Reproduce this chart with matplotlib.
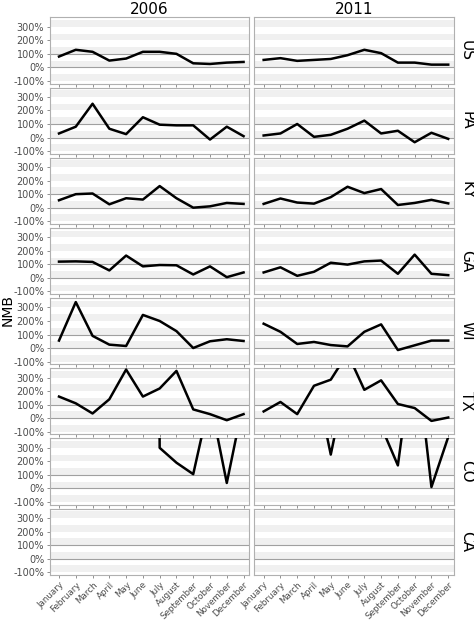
import numpy as np
import matplotlib
matplotlib.use('Agg')
import matplotlib.pyplot as plt
from matplotlib.ticker import FuncFormatter

months = ['January', 'February', 'March', 'April', 'May', 'June', 'July',
          'August', 'September', 'October', 'November', 'December']
years = ['2006', '2011']
states = ['US', 'PA', 'KY', 'GA', 'WI', 'TX', 'CO', 'CA']
nan = np.nan

# NMB (%) per state, per year
nmb_2006 = {
    'US': [80, 130, 115, 50, 65, 115, 115, 100, 30, 25, 35, 40],
    'PA': [30, 80, 250, 65, 25, 150, 95, 90, 90, -15, 80, 10],
    'KY': [55, 100, 105, 25, 70, 60, 160, 70, 0, 10, 35, 28],
    'GA': [120, 122, 118, 55, 165, 85, 95, 93, 25, 85, 5, 40],
    'WI': [55, 340, 90, 25, 15, 245, 200, 125, 0, 50, 65, 52],
    'TX': [160, 110, 35, 140, 360, 160, 220, 350, 65, 30, -15, 30],
    'CO': [nan, nan, nan, nan, nan, 20000, 300, 190, 105, 660, 40, 645],
    'CA': [nan] * 12,
}
nmb_2011 = {
    'US': [55, 68, 48, 55, 62, 90, 130, 105, 35, 35, 20, 20],
    'PA': [15, 30, 100, 5, 20, 65, 125, 30, 50, -35, 35, -10],
    'KY': [28, 68, 38, 30, 78, 155, 108, 138, 20, 35, 58, 32],
    'GA': [40, 78, 15, 45, 112, 98, 122, 128, 30, 172, 30, 20],
    'WI': [180, 120, 30, 45, 22, 12, 120, 175, -15, 20, 55, 55],
    'TX': [50, 120, 30, 240, 285, 480, 210, 280, 105, 75, -20, 5],
    'CO': [nan, nan, nan, 850, 250, 850, nan, 460, 170, 1100, 10, 380],
    'CA': [nan] * 12,
}

fig, axes = plt.subplots(len(states), 2, figsize=(4.74, 6.2), dpi=100, sharex=True)
fig.subplots_adjust(left=0.105, right=0.958, top=0.972, bottom=0.073, wspace=0.025, hspace=0.06)

x = np.arange(len(months))
pct = FuncFormatter(lambda v, _: f'{int(v)}%')

for i, st in enumerate(states):
    for j, data in enumerate([nmb_2006, nmb_2011]):
        ax = axes[i, j]
        for t in range(-100, 400, 100):
            ax.axhspan(t, t + 50, color='#f0f0f0', lw=0, zorder=0)
        ax.axhline(0, color='#a0a0a0', lw=0.8, zorder=1)
        ax.axhline(100, color='#a0a0a0', lw=0.8, zorder=1)
        ax.plot(x, data[st], color='black', lw=1.8, zorder=3)
        ax.set_ylim(-120, 370)
        ax.set_xlim(-0.55, 11.35)
        ax.set_yticks([-100, 0, 100, 200, 300])
        ax.yaxis.set_major_formatter(pct)
        for s in ax.spines.values():
            s.set_color('#b0b0b0')
        ax.tick_params(colors='#7f7f7f', labelcolor='#4d4d4d', labelsize=7, length=2.5, width=0.6, pad=1.5)
        if j == 1:
            ax.tick_params(axis='y', left=False, labelleft=False)
            ax.text(1.025, 0.5, st, transform=ax.transAxes, rotation=270,
                    va='center', ha='left', fontsize=11)
        if i == 0:
            ax.set_title(years[j], fontsize=11, pad=2)
        if i == len(states) - 1:
            ax.set_xticks(x)
            ax.set_xticklabels(months, rotation=45, ha='right', rotation_mode='anchor', fontsize=6.3)

fig.text(0.002, 0.5, 'NMB', rotation=90, va='center', ha='left', fontsize=10)
fig.savefig('out.png', dpi=100)
